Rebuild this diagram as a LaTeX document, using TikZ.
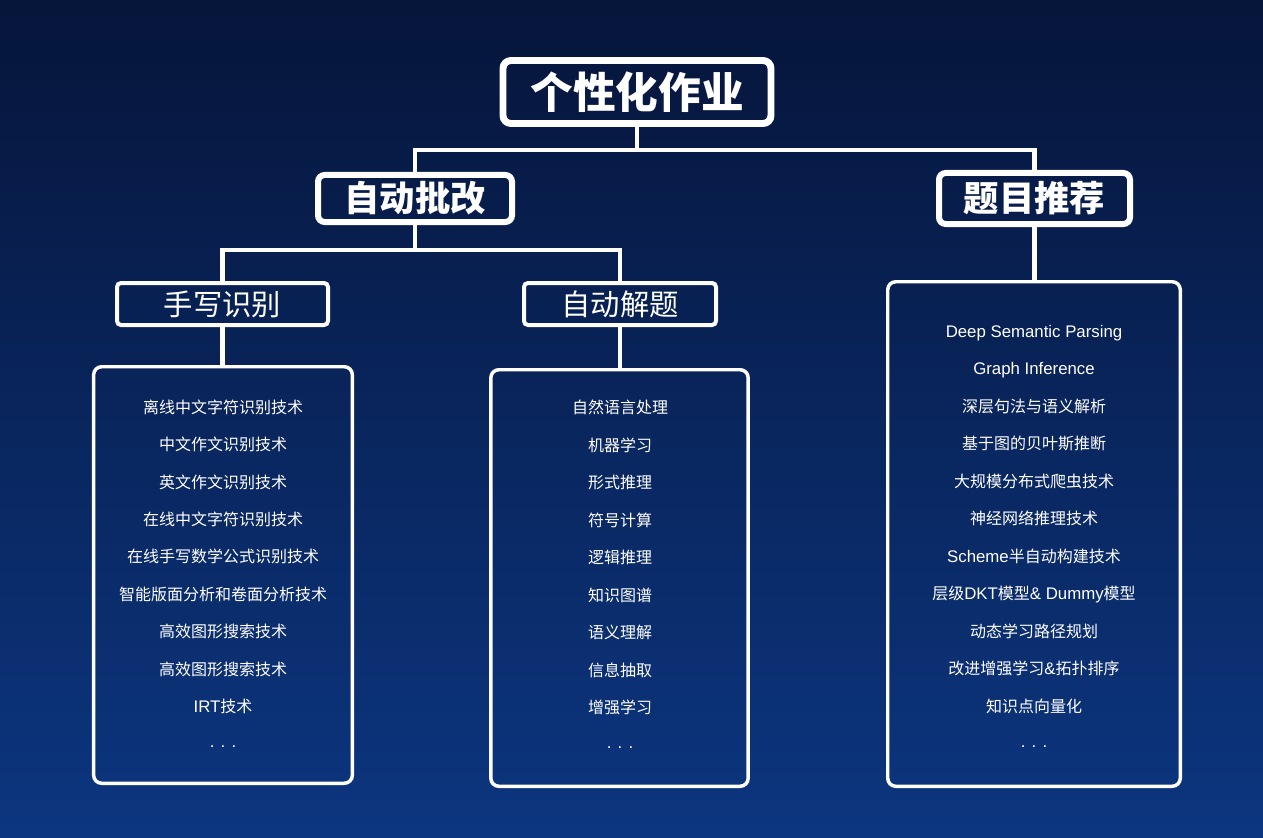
\documentclass[tikz,border=0pt]{standalone}
\usepackage{fontspec}
\setmainfont{Noto Sans CJK SC}
\newfontfamily\lat[Scale=1.05]{Liberation Sans}
\usetikzlibrary{positioning}
\definecolor{bgtop}{RGB}{6,21,58}
\definecolor{bgmid}{RGB}{7,31,82}
\definecolor{bgbot}{RGB}{12,54,128}
\tikzset{
  rootbox/.style={draw=white, line width=5.2pt, rounded corners=6pt, text=white,
    font=\bfseries\fontsize{32}{36}\selectfont, minimum width=201pt, minimum height=47.25pt},
  headbox/.style={draw=white, line width=4.5pt, rounded corners=5pt, text=white,
    font=\bfseries\fontsize{26.5}{30}\selectfont, minimum height=35.25pt},
  subbox/.style={draw=white, line width=3pt, rounded corners=3pt, text=white,
    font=\fontsize{22}{26}\selectfont, minimum height=31.5pt},
  listbox/.style={draw=white, line width=2.6pt, rounded corners=6pt, minimum width=194pt, minimum height=312.4pt},
  item/.style={text=white, font=\fontsize{12}{14}\selectfont, text height=10pt, text depth=2pt},
  link/.style={draw=white, line width=3.6pt}
}

\begin{document}
\begin{tikzpicture}[x=0.75pt, y=-0.75pt]
        \shade[top color=bgtop, middle color=bgmid, bottom color=bgbot] (0,0) rectangle (1263,838);
        \useasboundingbox (0,0) rectangle (1263,838);
        % tree heads
        \node[rootbox] (root) at (637,92) {个性化作业};
        \node[headbox, minimum width=145.5pt] (pigai) at (415,198.5) {自动批改};
        \node[headbox, minimum width=143.25pt, minimum height=38.25pt] (tuijian) at (1034.5,198.5) {题目推荐};
        \node[subbox, minimum width=158.25pt] (shouxie) at (222.5,304) {手写识别};
        \node[subbox, minimum width=144pt] (jieti) at (620,304) {自动解题};
        % lists
        \node[listbox] (shouxielist) at (223,575) {};
        \node[listbox, minimum width=193pt] (jietilist) at (619.5,578) {};
        \node[listbox, minimum width=219.4pt, minimum height=378.4pt] (tuijianlist) at (1034,534) {};
        % branches
        \coordinate (fork1) at (637,150);
        \coordinate (fork2) at (415,250);
        \draw[link] (root.south) -- (fork1);
        \draw[link] (pigai.north) |- (fork1) -| (tuijian.north);
        \draw[link] (pigai.south) -- (fork2);
        \draw[link] (shouxie.north) |- (fork2) -| (jieti.north);
        \draw[link] (shouxie.south) -- (shouxie.south |- shouxielist.north);
        \draw[link] (jieti.south) -- (jieti.south |- jietilist.north);
        \draw[link] (tuijian.south) -- (tuijian.south |- tuijianlist.north);
        % list entries
        \foreach \t [count=\i] in {离线中文字符识别技术, 中文作文识别技术, 英文作文识别技术, 在线中文字符识别技术,
            在线手写数学公式识别技术, 智能版面分析和卷面分析技术, 高效图形搜索技术, 高效图形搜索技术,
            {\lat IRT}技术, {\lat\raisebox{2pt}{. . .}}}
          \node[item] (hw\i) at (223,408+37.4*\i-37.4) {\t};
        \foreach \t [count=\i] in {自然语言处理, 机器学习, 形式推理, 符号计算, 逻辑推理, 知识图谱,
            语义理解, 信息抽取, 增强学习, {\lat\raisebox{2pt}{. . .}}}
          \node[item] (js\i) at (620,408.5+37.5*\i-37.5) {\t};
        \foreach \t [count=\i] in {{\lat Deep Semantic Parsing}, {\lat Graph Inference}, 深层句法与语义解析,
            基于图的贝叶斯推断, 大规模分布式爬虫技术, 神经网络推理技术, {\lat Scheme}半自动构建技术,
            层级{\lat DKT}模型{\lat\& Dummy}模型, 动态学习路径规划, 改进增强学习{\lat\&}拓扑排序,
            知识点向量化, {\lat\raisebox{2pt}{. . .}}}
          \node[item] (tj\i) at (1034,332+37.5*\i-37.5) {\t};
      \end{tikzpicture}
\end{document}
